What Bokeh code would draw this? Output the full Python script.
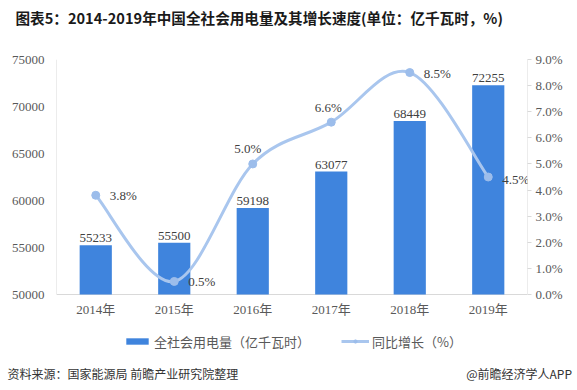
from bokeh.plotting import figure
from bokeh.models import (Range1d, LinearAxis, FixedTicker, LabelSet, Legend,
                          LegendItem, ColumnDataSource, Title)
from bokeh.core.properties import value
from bokeh.embed import file_html
from bokeh.resources import INLINE

# ---- data ----
years = ["2014年", "2015年", "2016年", "2017年", "2018年", "2019年"]
consumption = [55233, 55500, 59198, 63077, 68449, 72255]
growth = [3.8, 0.5, 5.0, 6.6, 8.5, 4.5]
left_ticks = [50000, 55000, 60000, 65000, 70000, 75000]
right_ticks = [0, 1, 2, 3, 4, 5, 6, 7, 8, 9]
right_tick_labels = ["0.0%", "1.0%", "2.0%", "3.0%", "4.0%", "5.0%", "6.0%", "7.0%", "8.0%", "9.0%"]

title_text = "图表5：2014-2019年中国全社会用电量及其增长速度(单位：亿千瓦时，%)"
bar_name = "全社会用电量（亿千瓦时）"
line_name = "同比增长（%）"
source_text = "资料来源：国家能源局 前瞻产业研究院整理"
brand_text = "@前瞻经济学人APP"

# ---- styles / layout ----
BAR = "#3F84DD"
LINE = "#A9C6EE"
MARK = "#9CBDEB"
GRAY = "#595959"
AX = "#D9D9D9"
SERIF = "'Liberation Serif', 'Noto Sans CJK SC'"
SANS = "'Noto Sans CJK SC'"

W, H = 577, 390
FRAME_TOP, FRAME_BOTTOM = 59, 364      # plot frame (extends down to hold legend)
AXIS_Y = 294                            # pixel row of the category baseline
LEFT, RIGHT = 56, 527

# percent-label placement (style only)
pct_xoff = [14, 14, -5, -3, 14, 14]
pct_yoff = [0, 0, 15, 15, -1, -2]
pct_align = ["left", "left", "center", "center", "left", "left"]

xs = list(range(len(years)))
span_px = AXIS_Y - FRAME_TOP
extra_px = FRAME_BOTTOM - AXIS_Y
y_lo = left_ticks[0] - extra_px * (left_ticks[-1] - left_ticks[0]) / span_px
r_lo = right_ticks[0] - extra_px * (right_ticks[-1] - right_ticks[0]) / span_px
x_lo, x_hi = -0.5, len(years) - 0.5

p = figure(width=W, height=H, x_range=Range1d(x_lo, x_hi),
           y_range=Range1d(y_lo, left_ticks[-1]),
           output_backend="svg", toolbar_location=None, x_axis_location=None,
           min_border_left=LEFT, min_border_right=W - RIGHT,
           min_border_top=FRAME_TOP, min_border_bottom=H - FRAME_BOTTOM)
p.extra_y_ranges = {"pct": Range1d(r_lo, right_ticks[-1])}
p.xgrid.visible = False
p.ygrid.visible = False
p.outline_line_color = None
p.background_fill_color = "white"
p.border_fill_color = "white"

# title (spacer keeps it clear of the frame)
p.add_layout(Title(text=" ", text_font_size="10px", standoff=19), "above")
p.add_layout(Title(text=title_text, align="left", offset=-41, standoff=0,
                   text_font=SANS, text_font_size="14.6px", text_font_style="bold",
                   text_color="#1a1a1a"), "above")

# left axis
ya = p.yaxis[0]
ya.ticker = FixedTicker(ticks=left_ticks)
ya.major_tick_line_color = None
ya.major_tick_out = 0
ya.minor_tick_line_color = None
ya.axis_line_color = None
ya.major_label_text_font = SERIF
ya.major_label_text_font_size = "13px"
ya.major_label_text_color = GRAY
ya.major_label_standoff = 12

# right axis
ra = LinearAxis(y_range_name="pct", ticker=FixedTicker(ticks=right_ticks))
ra.major_label_overrides = {t: l for t, l in zip(right_ticks, right_tick_labels)}
ra.axis_line_color = None
ra.major_tick_line_color = AX
ra.major_tick_in = 0
ra.major_tick_out = 4
ra.minor_tick_line_color = None
ra.major_label_text_font = SERIF
ra.major_label_text_font_size = "13px"
ra.major_label_text_color = GRAY
ra.major_label_standoff = 4
p.add_layout(ra, "right")

# axis lines
p.segment(x0=[x_lo, x_lo], y0=[left_ticks[0], left_ticks[0]],
          x1=[x_hi, x_lo], y1=[left_ticks[0], left_ticks[-1]], line_color=AX, line_width=1)
p.segment(x0=[x_hi], y0=[right_ticks[0]], x1=[x_hi], y1=[right_ticks[-1]],
          line_color=AX, line_width=1, y_range_name="pct")

# category labels under the baseline
csrc = ColumnDataSource(dict(x=xs, y=[left_ticks[0]] * len(xs), t=years))
p.add_layout(LabelSet(x="x", y="y", text="t", source=csrc, text_align="center",
                      text_baseline="middle", y_offset=-15, text_font=value(SERIF),
                      text_font_size="13px", text_color=GRAY))

# bars
bsrc = ColumnDataSource(dict(x=xs, top=consumption, lab=[str(v) for v in consumption]))
bars = p.vbar(x="x", top="top", bottom=left_ticks[0], width=0.41, source=bsrc,
              fill_color=BAR, line_color=None)
p.add_layout(LabelSet(x="x", y="top", text="lab", source=bsrc, text_align="center",
                      text_baseline="bottom", y_offset=3, text_font=value(SERIF),
                      text_font_size="13px", text_color="#404040"))

# smooth growth line (Catmull-Rom bezier segments through the data points)
n = len(growth)
x0, y0, x1, y1, cx0, cy0, cx1, cy1 = [], [], [], [], [], [], [], []
for i in range(n - 1):
    pm = max(i - 1, 0)
    pp = min(i + 2, n - 1)
    x0.append(xs[i]); y0.append(growth[i])
    x1.append(xs[i + 1]); y1.append(growth[i + 1])
    cx0.append(xs[i] + (xs[i + 1] - xs[pm]) / 6.0)
    cy0.append(growth[i] + (growth[i + 1] - growth[pm]) / 6.0)
    cx1.append(xs[i + 1] - (xs[pp] - xs[i]) / 6.0)
    cy1.append(growth[i + 1] - (growth[pp] - growth[i]) / 6.0)
curve = p.bezier(x0=x0, y0=y0, x1=x1, y1=y1, cx0=cx0, cy0=cy0, cx1=cx1, cy1=cy1,
                 line_color=LINE, line_width=3, y_range_name="pct")
psrc = ColumnDataSource(dict(x=xs, y=growth, lab=["%.1f%%" % g for g in growth],
                             xo=pct_xoff, yo=pct_yoff, al=pct_align))
dots = p.scatter(x="x", y="y", source=psrc, size=8, fill_color=MARK, line_color=MARK,
                 y_range_name="pct")
p.add_layout(LabelSet(x="x", y="y", text="lab", source=psrc, y_range_name="pct",
                      x_offset="xo", y_offset="yo", text_align="al", text_baseline="middle",
                      text_font=value(SERIF), text_font_size="13px", text_color="#404040"))

# legend (inside the lower part of the frame)
leg = Legend(items=[LegendItem(label=bar_name, renderers=[bars]),
                    LegendItem(label=line_name, renderers=[curve, dots])],
             orientation="horizontal", location=(123 - LEFT, FRAME_BOTTOM - 351),
             glyph_width=28, glyph_height=8, label_standoff=3, spacing=31,
             label_height=20,
             label_text_font=SANS, label_text_font_size="13px", label_text_color=GRAY,
             background_fill_alpha=0, border_line_color=None, padding=0, margin=0)
p.add_layout(leg, "center")

# footer
p.add_layout(Title(text=source_text + "\u3000" * 19 + brand_text, align="left",
                   vertical_align="top", offset=-49, standoff=0, text_font=SANS,
                   text_font_size="12px", text_font_style="normal",
                   text_color="#333333"), "below")

open("out.html", "w").write(file_html(p, INLINE))
